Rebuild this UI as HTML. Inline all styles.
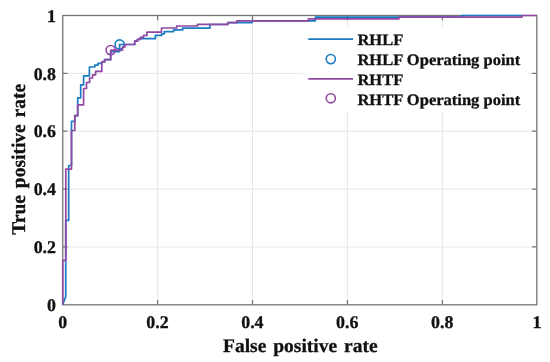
<!DOCTYPE html>
<html>
<head>
<meta charset="utf-8">
<title>ROC curves</title>
<style>
html,body{margin:0;padding:0;background:#fff;}
body{width:550px;height:362px;overflow:hidden;}
svg{display:block;}
text{font-family:"Liberation Serif","Times New Roman",serif;font-weight:bold;fill:#111;stroke:#111;stroke-width:0.3px;text-rendering:geometricPrecision;}
.tick{font-size:17.9px;}
.lab{font-size:19.5px;word-spacing:2px;}
.leg{font-size:16.55px;}
</style>
</head>
<body>
<svg width="550" height="362" viewBox="0 0 550 362">
<rect width="550" height="362" fill="#fff"/>
<!-- grid -->
<g stroke="#e7e7e7" stroke-width="1" fill="none">
<path d="M157.6,15.5V304.8M252.5,15.5V304.8M347.45,15.5V304.8M442.4,15.5V304.8"/>
<path d="M62.75,246.95H536.8M62.75,189.1H536.8M62.75,131.2H536.8M62.75,73.35H536.8"/>
</g>
<!-- axes box -->
<g stroke="#767676" stroke-width="1.3" fill="none">
<rect x="62.75" y="15.5" width="474.05" height="289.3"/>
<path d="M157.6,304.8v-4.8M252.5,304.8v-4.8M347.45,304.8v-4.8M442.4,304.8v-4.8"/>
<path d="M157.6,15.5v4.8M252.5,15.5v4.8M347.45,15.5v4.8M442.4,15.5v4.8"/>
<path d="M62.75,246.95h4.8M62.75,189.1h4.8M62.75,131.2h4.8M62.75,73.35h4.8"/>
<path d="M536.8,246.95h-4.8M536.8,189.1h-4.8M536.8,131.2h-4.8M536.8,73.35h-4.8"/>
</g>
<!-- RHLF -->
<path fill="none" stroke="#1a7bc3" stroke-width="1.7" stroke-linejoin="round" d="M62.75,304.7L65.7,296.6V220.4H68.7V165.5H71.5V121.3H74.8V115.7H77.7V97.8H80.7V84.9H83.6V75.8H89.4V67H94.8V65.1H98V63.3H101.8V61.9H104.6V59.6H110.7V51.6H119.6V44.5H134.7V41.2H137.5V39.3H140V38.7H155.4V35.4H161.6V33.8H164.3V31.6H173.6V29.9H182.6V28.2H209.9V24.5H227.7V22.7H252.2V20.8H315.3V17.2H461.5V15.5H522"/>
<circle cx="119.6" cy="44.5" r="4.6" fill="none" stroke="#1a7bc3" stroke-width="1.6"/>
<!-- RHTF -->
<path fill="none" stroke="#9148a2" stroke-width="1.7" stroke-linejoin="round" d="M62.75,304.7V260.3H65.8V169.1H71.5V130.5H74.8V115.7H77.7V104.8H83.6V88.5H86.5V82.5H89.6V78H92.6V74.8H95.6V71.4H101.8V61.9H104.6V59.6H110.7V50.1H122.5V46.9H124.9V44.5H134.7V41.2H137.5V39.3H140.3V37.4H143.5V35.4H146.9V32.1H161.5V28H176.7V26H197.5V24.4H227.7V22.7H236.8V20.8H308.4V18.8H399V17.1H522V15.5H536.8"/>
<circle cx="110.7" cy="50.1" r="4.6" fill="none" stroke="#9148a2" stroke-width="1.6"/>
<!-- legend -->
<rect x="303.5" y="27.5" width="223.5" height="84.3" fill="#fff" stroke="#fff" stroke-width="1"/>
<path d="M308.2,39.2H353" stroke="#1a7bc3" stroke-width="1.7" fill="none"/>
<circle cx="330.8" cy="59.1" r="4.6" fill="none" stroke="#1a7bc3" stroke-width="1.6"/>
<path d="M308.2,78.8H353" stroke="#9148a2" stroke-width="1.7" fill="none"/>
<circle cx="330.8" cy="98.3" r="4.6" fill="none" stroke="#9148a2" stroke-width="1.6"/>
<text class="leg" transform="translate(357.4,44.9) scale(1,0.96)">RHLF</text>
<text class="leg" transform="translate(357.4,64.8) scale(1,0.96)">RHLF Operating point</text>
<text class="leg" transform="translate(357.4,84.6) scale(1,0.96)">RHTF</text>
<text class="leg" transform="translate(357.4,104.5) scale(1,0.96)">RHTF Operating point</text>
<!-- x ticks -->
<g class="tick" text-anchor="middle">
<text x="62.7" y="328.4">0</text>
<text x="157.5" y="328.4">0.2</text>
<text x="252.4" y="328.4">0.4</text>
<text x="347.3" y="328.4">0.6</text>
<text x="442.3" y="328.4">0.8</text>
<text x="537" y="328.4">1</text>
</g>
<!-- y ticks -->
<g class="tick" text-anchor="end">
<text x="56" y="310.6">0</text>
<text x="56" y="252.8">0.2</text>
<text x="56" y="195.1">0.4</text>
<text x="56" y="137.3">0.6</text>
<text x="56" y="79.6">0.8</text>
<text x="56" y="21.8">1</text>
</g>
<text class="lab" text-anchor="middle" transform="translate(300.3,352) scale(1,0.985)">False positive rate</text>
<text class="lab" text-anchor="middle" transform="translate(24.5,159.3) rotate(-90)">True positive rate</text>
</svg>
</body>
</html>
